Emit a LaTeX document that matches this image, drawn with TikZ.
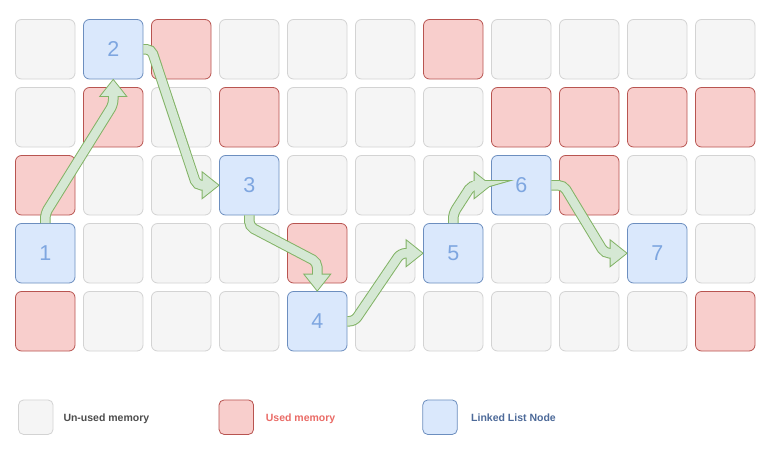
\documentclass[tikz,border=0pt]{standalone}
\usepackage{fontspec}
\setmainfont{Liberation Sans}
\usetikzlibrary{calc}
\definecolor{grayfill}{HTML}{F5F5F5}
\definecolor{graydraw}{HTML}{D3D3D3}
\definecolor{redfill}{HTML}{F8CECC}
\definecolor{reddraw}{HTML}{B85450}
\definecolor{bluefill}{HTML}{DAE8FC}
\definecolor{bluedraw}{HTML}{6C8EBF}
\definecolor{numcol}{HTML}{7EA6E0}
\definecolor{arrfill}{HTML}{D5E8D4}
\definecolor{arrdraw}{HTML}{82B366}
\definecolor{txtgray}{HTML}{4D4D4D}
\definecolor{txtred}{HTML}{EA6B66}
\definecolor{txtblue}{HTML}{4D6A99}
\newcommand{\flexarrow}[2]{%
  \draw[shaftout] #1;
  \filldraw[headpoly] #2 -- cycle;
  \draw[shaftin] #1;
}
\begin{document}
\begin{tikzpicture}[x=1pt,y=-1pt,
  cell/.style={rectangle, minimum size=59.5pt, inner sep=0pt, rounded corners=6pt, line width=0.8pt},
  freecell/.style={cell, fill=grayfill, draw=graydraw},
  usedcell/.style={cell, fill=redfill, draw=reddraw},
  listcell/.style={cell, fill=bluefill, draw=bluedraw, text=numcol, font=\fontsize{21.5}{22}\selectfont},
  legbox/.style={rectangle, minimum size=34.5pt, inner sep=0pt, rounded corners=5pt, line width=0.8pt},
  legtext/.style={anchor=base west, inner sep=0pt, font=\bfseries\fontsize{10.5}{12}\selectfont},
  shaftout/.style={draw=arrdraw, line width=10.5pt, rounded corners=5pt},
  shaftin/.style={draw=arrfill, line width=8.5pt, rounded corners=5pt, shorten >=-1.5pt},
  headpoly/.style={fill=arrfill, draw=arrdraw, line width=0.8pt, line join=miter},
]
\useasboundingbox[fill=white] (0,0) rectangle (774,455);

% un-used cells
\foreach \r/\c in {1/1,1/4,1/5,1/6,1/8,1/9,1/10,1/11,
                   2/1,2/3,2/5,2/6,2/7,
                   3/2,3/3,3/5,3/6,3/7,3/10,3/11,
                   4/2,4/3,4/4,4/6,4/8,4/9,4/11,
                   5/2,5/3,5/4,5/6,5/7,5/8,5/9,5/10}
  \node[freecell] (g\r-\c) at ({45.25+68*(\c-1)},{49.25+68*(\r-1)}) {};

% used cells
\foreach \r/\c in {1/3,1/7,2/2,2/4,2/8,2/9,2/10,2/11,3/1,3/9,4/5,5/1,5/11}
  \node[usedcell] (u\r-\c) at ({45.25+68*(\c-1)},{49.25+68*(\r-1)}) {};

% linked list nodes
\foreach \k/\r/\c in {1/4/1,2/1/2,3/3/4,4/5/5,5/4/7,6/3/8,7/4/10}
  \node[listcell] (n\k) at ({45.25+68*(\c-1)},{49.25+68*(\r-1)}) {\k};

% arrows
\flexarrow{(n1.north) -- ++(0,-9.5) -- ($(n2.south)+(0,25)$) -- ($(n2.south)+(0,17)$)}
  {($(n2.south)+(-13.5,17)$) -- (n2.south) -- ($(n2.south)+(13.5,17)$)}
\flexarrow{(n2.east) -- ++(8,0) -- ($(n3.west)+(-22.5,0)$) -- ($(n3.west)+(-17,0)$)}
  {($(n3.west)+(-17,-13.5)$) -- (n3.west) -- ($(n3.west)+(-17,13.5)$)}
\flexarrow{(n3.south) -- ++(0,11) -- ($(n4.north)+(0,-29)$) -- ($(n4.north)+(0,-17)$)}
  {($(n4.north)+(-13.5,-17)$) -- (n4.north) -- ($(n4.north)+(13.5,-17)$)}
\flexarrow{(n4.east) -- ++(7,0) -- ($(n5.west)+(-22.5,0)$) -- ($(n5.west)+(-17,0)$)}
  {($(n5.west)+(-17,-13.5)$) -- (n5.west) -- ($(n5.west)+(-17,13.5)$)}
\flexarrow{(n5.north) -- ++(0,-9.5) -- ($(n6.west)+(-19.5,0)$) -- ($(n6.west)+(-17,0)$)}
  {($(n6.west)+(-17,-13.5)$) -- (n6.west) -- ($(n6.west)+(-17,13.5)$)}
\flexarrow{(n6.east) -- ++(12,0) -- ($(n7.west)+(-22.5,0)$) -- ($(n7.west)+(-17,0)$)}
  {($(n7.west)+(-17,-13.5)$) -- (n7.west) -- ($(n7.west)+(-17,13.5)$)}

% legend
\node[legbox, fill=grayfill, draw=graydraw] (lb1) at (35.8,417.2) {};
\node[legbox, fill=redfill, draw=reddraw] (lb2) at (236.3,417.2) {};
\node[legbox, fill=bluefill, draw=bluedraw] (lb3) at (440,417.2) {};
\node[legtext, text=txtgray] (lt1) at (63.3,421) {Un-used memory};
\node[legtext, text=txtred] (lt2) at (265.7,421) {Used memory};
\node[legtext, text=txtblue] (lt3) at (471,421) {Linked List Node};
\end{tikzpicture}
\end{document}
